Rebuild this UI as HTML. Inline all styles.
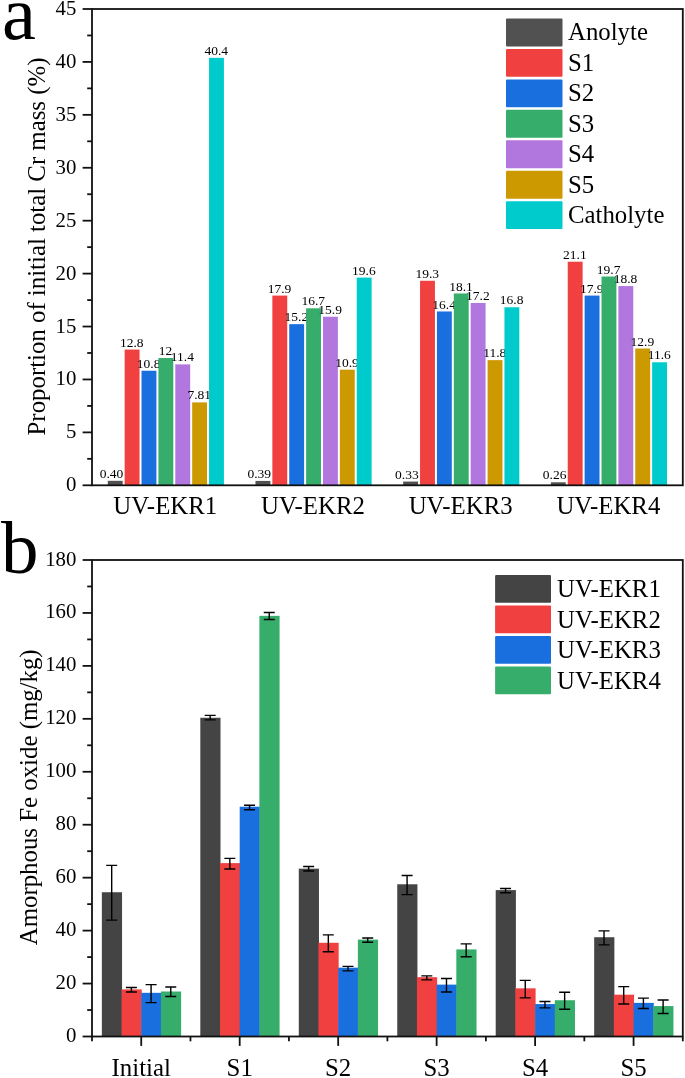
<!DOCTYPE html>
<html lang="en">
<head>
<meta charset="utf-8">
<title>Figure: Cr mass distribution and amorphous Fe oxide</title>
<style>
html,body{margin:0;padding:0;background:#fff;}
body{width:685px;height:1078px;overflow:hidden;font-family:"Liberation Serif", "Times New Roman", serif;}
svg{display:block;}
</style>
</head>
<body>
<svg width="685" height="1078" viewBox="0 0 685 1078" font-family='"Liberation Serif", "Times New Roman", serif' fill="#000">
<rect x="0" y="0" width="685" height="1078" fill="#fff"/>
<g id="panel-a">
<rect x="107.77" y="480.82" width="14.88" height="4.48" fill="#515151"/>
<text x="111.51" y="477.92" font-size="13.5" text-anchor="middle">0.40</text>
<rect x="255.47" y="480.92" width="14.88" height="4.38" fill="#515151"/>
<text x="259.21" y="478.02" font-size="13.5" text-anchor="middle">0.39</text>
<rect x="403.17" y="481.56" width="14.88" height="3.74" fill="#515151"/>
<text x="406.91" y="478.66" font-size="13.5" text-anchor="middle">0.33</text>
<rect x="550.87" y="482.30" width="14.88" height="3.00" fill="#515151"/>
<text x="554.61" y="479.40" font-size="13.5" text-anchor="middle">0.26</text>
<rect x="124.65" y="349.57" width="14.88" height="135.73" fill="#F14040"/>
<text x="131.79" y="346.67" font-size="13.5" text-anchor="middle">12.8</text>
<rect x="272.35" y="295.59" width="14.88" height="189.71" fill="#F14040"/>
<text x="279.49" y="292.69" font-size="13.5" text-anchor="middle">17.9</text>
<rect x="420.05" y="280.77" width="14.88" height="204.53" fill="#F14040"/>
<text x="427.19" y="277.87" font-size="13.5" text-anchor="middle">19.3</text>
<rect x="567.75" y="261.72" width="14.88" height="223.58" fill="#F14040"/>
<text x="574.89" y="258.82" font-size="13.5" text-anchor="middle">21.1</text>
<rect x="141.53" y="370.74" width="14.88" height="114.56" fill="#1A6FDF"/>
<text x="148.67" y="367.84" font-size="13.5" text-anchor="middle">10.8</text>
<rect x="289.23" y="324.17" width="14.88" height="161.13" fill="#1A6FDF"/>
<text x="296.37" y="321.27" font-size="13.5" text-anchor="middle">15.2</text>
<rect x="436.93" y="311.47" width="14.88" height="173.83" fill="#1A6FDF"/>
<text x="444.07" y="308.57" font-size="13.5" text-anchor="middle">16.4</text>
<rect x="584.63" y="295.59" width="14.88" height="189.71" fill="#1A6FDF"/>
<text x="591.77" y="292.69" font-size="13.5" text-anchor="middle">17.9</text>
<rect x="158.41" y="358.04" width="14.88" height="127.26" fill="#37AD6B"/>
<text x="165.55" y="355.14" font-size="13.5" text-anchor="middle">12</text>
<rect x="306.11" y="308.29" width="14.88" height="177.01" fill="#37AD6B"/>
<text x="313.25" y="305.39" font-size="13.5" text-anchor="middle">16.7</text>
<rect x="453.81" y="293.47" width="14.88" height="191.83" fill="#37AD6B"/>
<text x="460.95" y="290.57" font-size="13.5" text-anchor="middle">18.1</text>
<rect x="601.51" y="276.54" width="14.88" height="208.76" fill="#37AD6B"/>
<text x="608.65" y="273.64" font-size="13.5" text-anchor="middle">19.7</text>
<rect x="175.29" y="364.39" width="14.88" height="120.91" fill="#B177DE"/>
<text x="182.43" y="361.49" font-size="13.5" text-anchor="middle">11.4</text>
<rect x="322.99" y="316.76" width="14.88" height="168.54" fill="#B177DE"/>
<text x="330.13" y="313.86" font-size="13.5" text-anchor="middle">15.9</text>
<rect x="470.69" y="303.00" width="14.88" height="182.30" fill="#B177DE"/>
<text x="477.83" y="300.10" font-size="13.5" text-anchor="middle">17.2</text>
<rect x="618.39" y="286.06" width="14.88" height="199.24" fill="#B177DE"/>
<text x="625.53" y="283.16" font-size="13.5" text-anchor="middle">18.8</text>
<rect x="192.17" y="402.39" width="14.88" height="82.91" fill="#CC9900"/>
<text x="199.31" y="399.49" font-size="13.5" text-anchor="middle">7.81</text>
<rect x="339.87" y="369.68" width="14.88" height="115.62" fill="#CC9900"/>
<text x="347.01" y="366.78" font-size="13.5" text-anchor="middle">10.9</text>
<rect x="487.57" y="360.15" width="14.88" height="125.15" fill="#CC9900"/>
<text x="494.71" y="357.25" font-size="13.5" text-anchor="middle">11.8</text>
<rect x="635.27" y="348.51" width="14.88" height="136.79" fill="#CC9900"/>
<text x="642.41" y="345.61" font-size="13.5" text-anchor="middle">12.9</text>
<rect x="209.05" y="57.84" width="14.88" height="427.46" fill="#00CBCC"/>
<text x="216.19" y="54.94" font-size="13.5" text-anchor="middle">40.4</text>
<rect x="356.75" y="277.59" width="14.88" height="207.71" fill="#00CBCC"/>
<text x="363.89" y="274.69" font-size="13.5" text-anchor="middle">19.6</text>
<rect x="504.45" y="307.23" width="14.88" height="178.07" fill="#00CBCC"/>
<text x="511.59" y="304.33" font-size="13.5" text-anchor="middle">16.8</text>
<rect x="652.15" y="362.27" width="14.88" height="123.03" fill="#00CBCC"/>
<text x="659.29" y="359.37" font-size="13.5" text-anchor="middle">11.6</text>
<text x="165.25" y="514" font-size="24.83" text-anchor="middle">UV-EKR1</text>
<text x="312.95" y="514" font-size="24.83" text-anchor="middle">UV-EKR2</text>
<text x="460.65" y="514" font-size="24.83" text-anchor="middle">UV-EKR3</text>
<text x="608.35" y="514" font-size="24.83" text-anchor="middle">UV-EKR4</text>
<rect x="92.0" y="9.0" width="590.8" height="476.3" fill="none" stroke="#111" stroke-width="1.8"/>
<line x1="82.6" y1="485.30" x2="92.0" y2="485.30" stroke="#111" stroke-width="1.8"/>
<text x="76.4" y="491.30" font-size="20.8" text-anchor="end">0</text>
<line x1="87.2" y1="458.84" x2="92.0" y2="458.84" stroke="#111" stroke-width="1.8"/>
<line x1="82.6" y1="432.38" x2="92.0" y2="432.38" stroke="#111" stroke-width="1.8"/>
<text x="76.4" y="438.38" font-size="20.8" text-anchor="end">5</text>
<line x1="87.2" y1="405.92" x2="92.0" y2="405.92" stroke="#111" stroke-width="1.8"/>
<line x1="82.6" y1="379.46" x2="92.0" y2="379.46" stroke="#111" stroke-width="1.8"/>
<text x="76.4" y="385.46" font-size="20.8" text-anchor="end">10</text>
<line x1="87.2" y1="352.99" x2="92.0" y2="352.99" stroke="#111" stroke-width="1.8"/>
<line x1="82.6" y1="326.53" x2="92.0" y2="326.53" stroke="#111" stroke-width="1.8"/>
<text x="76.4" y="332.53" font-size="20.8" text-anchor="end">15</text>
<line x1="87.2" y1="300.07" x2="92.0" y2="300.07" stroke="#111" stroke-width="1.8"/>
<line x1="82.6" y1="273.61" x2="92.0" y2="273.61" stroke="#111" stroke-width="1.8"/>
<text x="76.4" y="279.61" font-size="20.8" text-anchor="end">20</text>
<line x1="87.2" y1="247.15" x2="92.0" y2="247.15" stroke="#111" stroke-width="1.8"/>
<line x1="82.6" y1="220.69" x2="92.0" y2="220.69" stroke="#111" stroke-width="1.8"/>
<text x="76.4" y="226.69" font-size="20.8" text-anchor="end">25</text>
<line x1="87.2" y1="194.23" x2="92.0" y2="194.23" stroke="#111" stroke-width="1.8"/>
<line x1="82.6" y1="167.77" x2="92.0" y2="167.77" stroke="#111" stroke-width="1.8"/>
<text x="76.4" y="173.77" font-size="20.8" text-anchor="end">30</text>
<line x1="87.2" y1="141.31" x2="92.0" y2="141.31" stroke="#111" stroke-width="1.8"/>
<line x1="82.6" y1="114.84" x2="92.0" y2="114.84" stroke="#111" stroke-width="1.8"/>
<text x="76.4" y="120.84" font-size="20.8" text-anchor="end">35</text>
<line x1="87.2" y1="88.38" x2="92.0" y2="88.38" stroke="#111" stroke-width="1.8"/>
<line x1="82.6" y1="61.92" x2="92.0" y2="61.92" stroke="#111" stroke-width="1.8"/>
<text x="76.4" y="67.92" font-size="20.8" text-anchor="end">40</text>
<line x1="87.2" y1="35.46" x2="92.0" y2="35.46" stroke="#111" stroke-width="1.8"/>
<line x1="82.6" y1="9.00" x2="92.0" y2="9.00" stroke="#111" stroke-width="1.8"/>
<text x="76.4" y="15.00" font-size="20.8" text-anchor="end">45</text>
<text transform="translate(45.3,246.5) rotate(-90)" font-size="24.83" text-anchor="middle">Proportion of initial total Cr mass (%)</text>
<rect x="506" y="18.50" width="56.5" height="27.9" rx="1" fill="#515151"/>
<text x="568" y="40.30" font-size="24.8">Anolyte</text>
<rect x="506" y="48.95" width="56.5" height="27.9" rx="1" fill="#F14040"/>
<text x="568" y="70.75" font-size="24.8">S1</text>
<rect x="506" y="79.40" width="56.5" height="27.9" rx="1" fill="#1A6FDF"/>
<text x="568" y="101.20" font-size="24.8">S2</text>
<rect x="506" y="109.85" width="56.5" height="27.9" rx="1" fill="#37AD6B"/>
<text x="568" y="131.65" font-size="24.8">S3</text>
<rect x="506" y="140.30" width="56.5" height="27.9" rx="1" fill="#B177DE"/>
<text x="568" y="162.10" font-size="24.8">S4</text>
<rect x="506" y="170.75" width="56.5" height="27.9" rx="1" fill="#CC9900"/>
<text x="568" y="192.55" font-size="24.8">S5</text>
<rect x="506" y="201.20" width="56.5" height="27.9" rx="1" fill="#00CBCC"/>
<text x="568" y="223.00" font-size="24.8">Catholyte</text>
<text x="2" y="39.2" font-size="76.5">a</text>
</g>
<g id="panel-b">
<rect x="101.85" y="892.23" width="20.19" height="144.27" fill="#444444"/>
<rect x="121.54" y="989.38" width="20.19" height="47.12" fill="#F14040"/>
<rect x="141.23" y="992.82" width="20.19" height="43.68" fill="#1A6FDF"/>
<rect x="160.93" y="991.50" width="20.19" height="45.00" fill="#37AD6B"/>
<path d="M111.69 865.36V920.15M106.19 865.36h11M106.19 920.15h11" stroke="#000" stroke-width="1.4" fill="none"/>
<path d="M131.39 987.53V992.03M125.89 987.53h11M125.89 992.03h11" stroke="#000" stroke-width="1.4" fill="none"/>
<path d="M151.08 984.61V1002.62M145.58 984.61h11M145.58 1002.62h11" stroke="#000" stroke-width="1.4" fill="none"/>
<path d="M170.77 987.00V996.53M165.27 987.00h11M165.27 996.53h11" stroke="#000" stroke-width="1.4" fill="none"/>
<text x="141.23" y="1075.6" font-size="24.83" text-anchor="middle">Initial</text>
<line x1="141.23" y1="1036.5" x2="141.23" y2="1045.9" stroke="#111" stroke-width="1.8"/>
<rect x="200.31" y="717.77" width="20.19" height="318.73" fill="#444444"/>
<rect x="220.01" y="863.11" width="20.19" height="173.39" fill="#F14040"/>
<rect x="239.70" y="806.72" width="20.19" height="229.78" fill="#1A6FDF"/>
<rect x="259.39" y="615.86" width="20.19" height="420.64" fill="#37AD6B"/>
<path d="M210.16 715.39V719.89M204.66 715.39h11M204.66 719.89h11" stroke="#000" stroke-width="1.4" fill="none"/>
<path d="M229.85 858.34V868.93M224.35 858.34h11M224.35 868.93h11" stroke="#000" stroke-width="1.4" fill="none"/>
<path d="M249.55 805.27V809.77M244.05 805.27h11M244.05 809.77h11" stroke="#000" stroke-width="1.4" fill="none"/>
<path d="M269.24 612.55V619.43M263.74 612.55h11M263.74 619.43h11" stroke="#000" stroke-width="1.4" fill="none"/>
<text x="239.70" y="1075.6" font-size="24.83" text-anchor="middle">S1</text>
<line x1="239.70" y1="1036.5" x2="239.70" y2="1045.9" stroke="#111" stroke-width="1.8"/>
<rect x="298.78" y="868.67" width="20.19" height="167.83" fill="#444444"/>
<rect x="318.47" y="942.79" width="20.19" height="93.71" fill="#F14040"/>
<rect x="338.17" y="967.67" width="20.19" height="68.83" fill="#1A6FDF"/>
<rect x="357.86" y="939.61" width="20.19" height="96.89" fill="#37AD6B"/>
<path d="M308.63 866.55V871.05M303.13 866.55h11M303.13 871.05h11" stroke="#000" stroke-width="1.4" fill="none"/>
<path d="M328.32 934.85V951.79M322.82 934.85h11M322.82 951.79h11" stroke="#000" stroke-width="1.4" fill="none"/>
<path d="M348.01 966.35V970.85M342.51 966.35h11M342.51 970.85h11" stroke="#000" stroke-width="1.4" fill="none"/>
<path d="M367.71 938.02V942.26M362.21 938.02h11M362.21 942.26h11" stroke="#000" stroke-width="1.4" fill="none"/>
<text x="338.17" y="1075.6" font-size="24.83" text-anchor="middle">S2</text>
<line x1="338.17" y1="1036.5" x2="338.17" y2="1045.9" stroke="#111" stroke-width="1.8"/>
<rect x="397.25" y="884.28" width="20.19" height="152.22" fill="#444444"/>
<rect x="416.94" y="977.20" width="20.19" height="59.30" fill="#F14040"/>
<rect x="436.63" y="984.61" width="20.19" height="51.89" fill="#1A6FDF"/>
<rect x="456.33" y="949.41" width="20.19" height="87.09" fill="#37AD6B"/>
<path d="M407.09 875.55V894.61M401.59 875.55h11M401.59 894.61h11" stroke="#000" stroke-width="1.4" fill="none"/>
<path d="M426.79 975.88V979.85M421.29 975.88h11M421.29 979.85h11" stroke="#000" stroke-width="1.4" fill="none"/>
<path d="M446.48 978.53V992.03M440.98 978.53h11M440.98 992.03h11" stroke="#000" stroke-width="1.4" fill="none"/>
<path d="M466.17 943.85V956.82M460.67 943.85h11M460.67 956.82h11" stroke="#000" stroke-width="1.4" fill="none"/>
<text x="436.63" y="1075.6" font-size="24.83" text-anchor="middle">S3</text>
<line x1="436.63" y1="1036.5" x2="436.63" y2="1045.9" stroke="#111" stroke-width="1.8"/>
<rect x="495.71" y="890.11" width="20.19" height="146.39" fill="#444444"/>
<rect x="515.41" y="988.32" width="20.19" height="48.18" fill="#F14040"/>
<rect x="535.10" y="1004.07" width="20.19" height="32.43" fill="#1A6FDF"/>
<rect x="554.79" y="1000.23" width="20.19" height="36.27" fill="#37AD6B"/>
<path d="M505.56 888.52V892.76M500.06 888.52h11M500.06 892.76h11" stroke="#000" stroke-width="1.4" fill="none"/>
<path d="M525.25 980.38V997.85M519.75 980.38h11M519.75 997.85h11" stroke="#000" stroke-width="1.4" fill="none"/>
<path d="M544.95 1001.56V1007.91M539.45 1001.56h11M539.45 1007.91h11" stroke="#000" stroke-width="1.4" fill="none"/>
<path d="M564.64 992.29V1009.23M559.14 992.29h11M559.14 1009.23h11" stroke="#000" stroke-width="1.4" fill="none"/>
<text x="535.10" y="1075.6" font-size="24.83" text-anchor="middle">S4</text>
<line x1="535.10" y1="1036.5" x2="535.10" y2="1045.9" stroke="#111" stroke-width="1.8"/>
<rect x="594.18" y="937.23" width="20.19" height="99.27" fill="#444444"/>
<rect x="613.87" y="994.67" width="20.19" height="41.83" fill="#F14040"/>
<rect x="633.57" y="1002.88" width="20.19" height="33.62" fill="#1A6FDF"/>
<rect x="653.26" y="1006.06" width="20.19" height="30.44" fill="#37AD6B"/>
<path d="M604.03 930.88V944.91M598.53 930.88h11M598.53 944.91h11" stroke="#000" stroke-width="1.4" fill="none"/>
<path d="M623.72 986.60V1004.07M618.22 986.60h11M618.22 1004.07h11" stroke="#000" stroke-width="1.4" fill="none"/>
<path d="M643.41 998.12V1008.44M637.91 998.12h11M637.91 1008.44h11" stroke="#000" stroke-width="1.4" fill="none"/>
<path d="M663.11 999.97V1013.47M657.61 999.97h11M657.61 1013.47h11" stroke="#000" stroke-width="1.4" fill="none"/>
<text x="633.57" y="1075.6" font-size="24.83" text-anchor="middle">S5</text>
<line x1="633.57" y1="1036.5" x2="633.57" y2="1045.9" stroke="#111" stroke-width="1.8"/>
<line x1="92.00" y1="1036.5" x2="92.00" y2="1041.3" stroke="#111" stroke-width="1.8"/>
<line x1="190.47" y1="1036.5" x2="190.47" y2="1041.3" stroke="#111" stroke-width="1.8"/>
<line x1="288.93" y1="1036.5" x2="288.93" y2="1041.3" stroke="#111" stroke-width="1.8"/>
<line x1="387.40" y1="1036.5" x2="387.40" y2="1041.3" stroke="#111" stroke-width="1.8"/>
<line x1="485.87" y1="1036.5" x2="485.87" y2="1041.3" stroke="#111" stroke-width="1.8"/>
<line x1="584.33" y1="1036.5" x2="584.33" y2="1041.3" stroke="#111" stroke-width="1.8"/>
<line x1="682.80" y1="1036.5" x2="682.80" y2="1041.3" stroke="#111" stroke-width="1.8"/>
<rect x="92.0" y="560.0" width="590.8" height="476.5" fill="none" stroke="#111" stroke-width="1.8"/>
<line x1="82.6" y1="1036.50" x2="92.0" y2="1036.50" stroke="#111" stroke-width="1.8"/>
<text x="76.4" y="1042.00" font-size="20.8" text-anchor="end">0</text>
<line x1="87.2" y1="1010.03" x2="92.0" y2="1010.03" stroke="#111" stroke-width="1.8"/>
<line x1="82.6" y1="983.56" x2="92.0" y2="983.56" stroke="#111" stroke-width="1.8"/>
<text x="76.4" y="989.06" font-size="20.8" text-anchor="end">20</text>
<line x1="87.2" y1="957.08" x2="92.0" y2="957.08" stroke="#111" stroke-width="1.8"/>
<line x1="82.6" y1="930.61" x2="92.0" y2="930.61" stroke="#111" stroke-width="1.8"/>
<text x="76.4" y="936.11" font-size="20.8" text-anchor="end">40</text>
<line x1="87.2" y1="904.14" x2="92.0" y2="904.14" stroke="#111" stroke-width="1.8"/>
<line x1="82.6" y1="877.67" x2="92.0" y2="877.67" stroke="#111" stroke-width="1.8"/>
<text x="76.4" y="883.17" font-size="20.8" text-anchor="end">60</text>
<line x1="87.2" y1="851.19" x2="92.0" y2="851.19" stroke="#111" stroke-width="1.8"/>
<line x1="82.6" y1="824.72" x2="92.0" y2="824.72" stroke="#111" stroke-width="1.8"/>
<text x="76.4" y="830.22" font-size="20.8" text-anchor="end">80</text>
<line x1="87.2" y1="798.25" x2="92.0" y2="798.25" stroke="#111" stroke-width="1.8"/>
<line x1="82.6" y1="771.78" x2="92.0" y2="771.78" stroke="#111" stroke-width="1.8"/>
<text x="76.4" y="777.28" font-size="20.8" text-anchor="end">100</text>
<line x1="87.2" y1="745.31" x2="92.0" y2="745.31" stroke="#111" stroke-width="1.8"/>
<line x1="82.6" y1="718.83" x2="92.0" y2="718.83" stroke="#111" stroke-width="1.8"/>
<text x="76.4" y="724.33" font-size="20.8" text-anchor="end">120</text>
<line x1="87.2" y1="692.36" x2="92.0" y2="692.36" stroke="#111" stroke-width="1.8"/>
<line x1="82.6" y1="665.89" x2="92.0" y2="665.89" stroke="#111" stroke-width="1.8"/>
<text x="76.4" y="671.39" font-size="20.8" text-anchor="end">140</text>
<line x1="87.2" y1="639.42" x2="92.0" y2="639.42" stroke="#111" stroke-width="1.8"/>
<line x1="82.6" y1="612.94" x2="92.0" y2="612.94" stroke="#111" stroke-width="1.8"/>
<text x="76.4" y="618.44" font-size="20.8" text-anchor="end">160</text>
<line x1="87.2" y1="586.47" x2="92.0" y2="586.47" stroke="#111" stroke-width="1.8"/>
<line x1="82.6" y1="560.00" x2="92.0" y2="560.00" stroke="#111" stroke-width="1.8"/>
<text x="76.4" y="565.50" font-size="20.8" text-anchor="end">180</text>
<text transform="translate(37.1,797.3) rotate(-90)" font-size="24.83" text-anchor="middle">Amorphous Fe oxide (mg/kg)</text>
<rect x="495.1" y="574.90" width="55.90" height="27.8" rx="1" fill="#444444"/>
<text x="557" y="597.20" font-size="24.8">UV-EKR1</text>
<rect x="495.1" y="605.45" width="55.90" height="27.8" rx="1" fill="#F14040"/>
<text x="557" y="627.75" font-size="24.8">UV-EKR2</text>
<rect x="495.1" y="636.00" width="55.90" height="27.8" rx="1" fill="#1A6FDF"/>
<text x="557" y="658.30" font-size="24.8">UV-EKR3</text>
<rect x="495.1" y="666.55" width="55.90" height="27.8" rx="1" fill="#37AD6B"/>
<text x="557" y="688.85" font-size="24.8">UV-EKR4</text>
<text x="1" y="573" font-size="75">b</text>
</g>
</svg>
</body>
</html>
